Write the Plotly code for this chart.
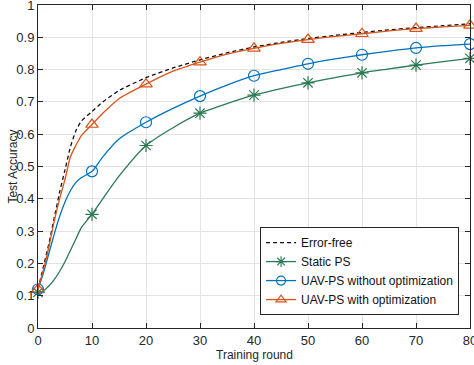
import plotly.graph_objects as go

rounds = [0,1,2,3,4,5,6,7,8,10,12,15,20,25,30,35,40,45,50,55,60,65,70,75,80]
error_free = [0.12,0.19,0.26,0.34,0.42,0.49,0.56,0.61,0.64,0.67,0.70,0.735,0.775,0.805,0.83,0.852,0.87,0.884,0.896,0.906,0.915,0.923,0.93,0.936,0.942]
static_ps = [0.11,0.115,0.13,0.15,0.175,0.205,0.24,0.275,0.31,0.352,0.40,0.47,0.565,0.62,0.665,0.695,0.721,0.741,0.759,0.775,0.79,0.802,0.814,0.825,0.835]
uav_no_opt = [0.12,0.17,0.23,0.29,0.345,0.39,0.425,0.45,0.465,0.485,0.53,0.585,0.637,0.68,0.718,0.752,0.781,0.80,0.818,0.833,0.846,0.857,0.867,0.874,0.879]
uav_opt = [0.12,0.18,0.25,0.33,0.40,0.46,0.53,0.565,0.595,0.63,0.665,0.71,0.755,0.795,0.823,0.848,0.866,0.881,0.893,0.903,0.911,0.92,0.927,0.932,0.937]

marker_rounds = [0,10,20,30,40,50,60,70,80]
x_ticks = [0,10,20,30,40,50,60,70,80]
y_ticks = [0,0.1,0.2,0.3,0.4,0.5,0.6,0.7,0.8,0.9,1]
y_tick_labels = ["0","0.1","0.2","0.3","0.4","0.5","0.6","0.7","0.8","0.9","1"]

GREEN = "#2b7a55"
BLUE = "#0072BD"
ORANGE = "#D95319"
DASH = "4px,3px"

fig = go.Figure()

def add_series(name, y, color, symbol, dash="solid", marker=True):
    fig.add_trace(go.Scatter(x=rounds, y=y, mode="lines", line=dict(color=color, width=1.3, dash=dash, shape="spline", smoothing=0.6),
                             showlegend=False, hoverinfo="skip", cliponaxis=False))
    if marker:
        my = [y[rounds.index(r)] for r in marker_rounds]
        fig.add_trace(go.Scatter(x=marker_rounds, y=my, mode="markers", cliponaxis=False,
                                 marker=dict(symbol=symbol, size=11, color=color, line=dict(color=color, width=1.2)),
                                 showlegend=False))
        fig.add_trace(go.Scatter(x=[None], y=[None], mode="lines+markers", name=name,
                                 line=dict(color=color, width=1.3),
                                 marker=dict(symbol=symbol, size=9, color=color, line=dict(color=color, width=1.1))))
    else:
        fig.add_trace(go.Scatter(x=[None], y=[None], mode="lines", name=name,
                                 line=dict(color=color, width=1.3, dash=dash)))

add_series("Error-free", error_free, "#111111", None, dash=DASH, marker=False)
add_series("Static PS", static_ps, GREEN, "asterisk-open")
add_series("UAV-PS without optimization", uav_no_opt, BLUE, "circle-open")
add_series("UAV-PS with optimization", uav_opt, ORANGE, "triangle-up-open")

axis_common = dict(showline=True, linecolor="#262626", linewidth=1, mirror="ticks",
                   ticks="inside", ticklen=5, tickcolor="#262626", automargin=False,
                   ticklabeloverflow="allow",
                   showgrid=True, gridcolor="#e3e3e3", gridwidth=1, zeroline=False,
                   tickfont=dict(size=13, color="#262626"))

fig.update_layout(
    width=474, height=365,
    margin=dict(l=38, r=4, t=5, b=37),
    paper_bgcolor="white", plot_bgcolor="white",
    font=dict(family="Liberation Sans, Arial, sans-serif", color="#262626"),
    xaxis=dict(range=[0,80], tickvals=x_ticks, **axis_common),
    yaxis=dict(range=[0,1], tickvals=y_ticks, ticktext=y_tick_labels, **axis_common),
    legend=dict(x=0.514, y=0.04, xanchor="left", yanchor="bottom", bgcolor="white",
                bordercolor="#262626", borderwidth=1, font=dict(size=12, color="#111111"),
                tracegroupgap=0, itemwidth=30),
    annotations=[
        dict(text="Training round", xref="paper", yref="paper", x=0.5, y=-0.084,
             xanchor="center", yanchor="middle", showarrow=False, font=dict(size=12, color="#262626")),
        dict(text="Test Accuracy", xref="paper", yref="paper", x=-0.06, y=0.5, textangle=-90,
             xanchor="center", yanchor="middle", showarrow=False, font=dict(size=12, color="#262626")),
    ],
)

fig.write_html("out.html", config={"displayModeBar": False},
               post_script="document.body.style.margin='0';document.body.style.overflow='hidden';")
